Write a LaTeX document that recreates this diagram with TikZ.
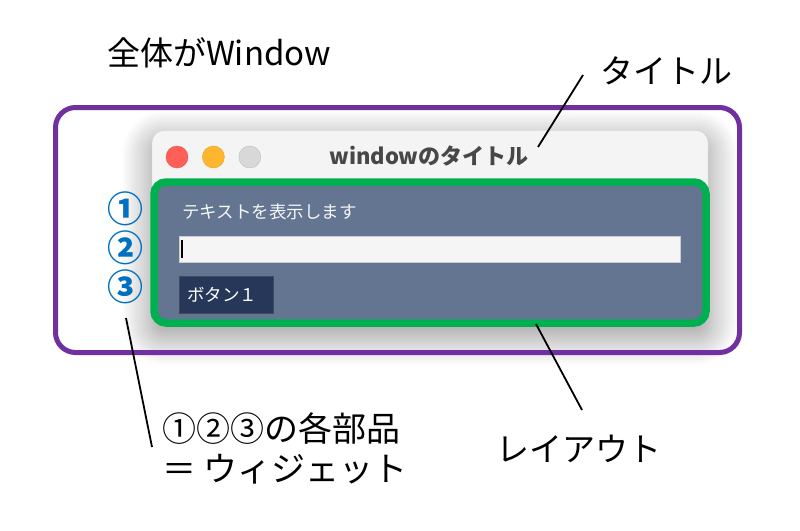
\documentclass[tikz,border=0pt]{standalone}
\usepackage{fontspec}
\setmainfont{Noto Sans CJK JP}
\usepackage{tikz,xcolor}
\usetikzlibrary{positioning, shadows.blur}

\definecolor{framepurple}{HTML}{7030A0}
\definecolor{layoutgreen}{HTML}{00B050}
\definecolor{numblue}{HTML}{0070C0}
\definecolor{slate}{HTML}{637590}
\definecolor{navy}{HTML}{263759}
\definecolor{winbg}{HTML}{F4F4F4}
\definecolor{winedge}{HTML}{D4D4D4}
\definecolor{redlight}{HTML}{FF5F57}
\definecolor{amberlight}{HTML}{FEB62E}
\definecolor{greylight}{HTML}{D8D8D8}

\begin{document}
\begin{tikzpicture}[x=1pt, y=-1pt, node distance=14pt, every node/.style={inner sep=0pt},
        note/.style={font=\fontsize{33}{40}\selectfont},
        num/.style={font=\bfseries\fontsize{36}{36}\selectfont, text=numblue},
        light/.style={circle, minimum size=22pt}]
    \useasboundingbox (0,0) rectangle (800,530);
    \node[note]                     (whole label)   at (219,53)  {全体がWindow};
    \node[note]                     (title label)   at (666,71)  {タイトル};
    \node[note, font=\fontsize{34}{40}\selectfont, anchor=west, align=left] (parts label) at (162,448) {①②③の各部品\\＝ ウィジェット};
    \node[note]                     (layout label)  at (579,449) {レイアウト};

    \node[fill=winbg, draw=winedge, rounded corners=12pt, minimum width=556pt, minimum height=195pt,
          blur shadow={shadow blur radius=30pt, shadow blur steps=30, shadow xshift=0pt, shadow yshift=-10pt, shadow opacity=45}]
                                    (win)           at (430,228) {};
    \node[draw=framepurple, line width=5pt, rounded corners=20pt, minimum width=684pt, minimum height=245pt]
                                    (whole)         at (397.5,230) {};

    % title bar
    \node[light, fill=redlight, draw=redlight!90!black]          (red light)    at (177,157) {};
    \node[light, fill=amberlight, draw=amberlight!90!black, right=of red light] (amber light) {};
    \node[light, fill=greylight, draw=black!25, right=of amber light]   (grey light)   {};
    \node[font=\bfseries\fontsize{22}{22}\selectfont, text=black!72] (win title) at (429,156) {windowのタイトル};

    % layout and widgets
    \node[draw=layoutgreen, fill=slate, line width=7.5pt, rounded corners=12pt, minimum width=552pt, minimum height=141pt]
                                    (layout)        at (430,252.5) {};
    \node[font=\fontsize{17.5}{18}\selectfont, text=white!94!slate, anchor=west] (text widget) at (182,212) {テキストを表示します};
    \node[fill=black!4!white, draw=black!20, anchor=north west, minimum width=501pt, minimum height=26pt] (entry) at (179,236) {};
    \draw[line width=1.5pt] ([xshift=3pt, yshift=-4pt]entry.north west) -- ([xshift=3pt, yshift=4pt]entry.south west);
    \node[fill=navy, draw=black!35!slate, below=14pt of entry.south west, anchor=north west, minimum height=37pt,
          text width=78pt, inner xsep=8pt, text=white, font=\fontsize{17.5}{18}\selectfont] (button) {ボタン１};

    \node[num] (num 1) at (125,209) {①};
    \node[num] (num 2) at (125,248) {②};
    \node[num] (num 3) at (125,287) {③};

    % callout lines
    \coordinate (title tip)   at (538,147);
    \coordinate (title end)   at (583,75);
    \coordinate (parts tip)   at (126,318);
    \coordinate (parts end)   at (152,447);
    \coordinate (layout tip)  at (536,324);
    \coordinate (layout end)  at (582,410);
    \draw[line width=1.8pt] (title end) -- (title tip);
    \draw[line width=1.8pt] (parts tip) -- (parts end);
    \draw[line width=1.8pt] (layout tip) -- (layout end);
\end{tikzpicture}
\end{document}
